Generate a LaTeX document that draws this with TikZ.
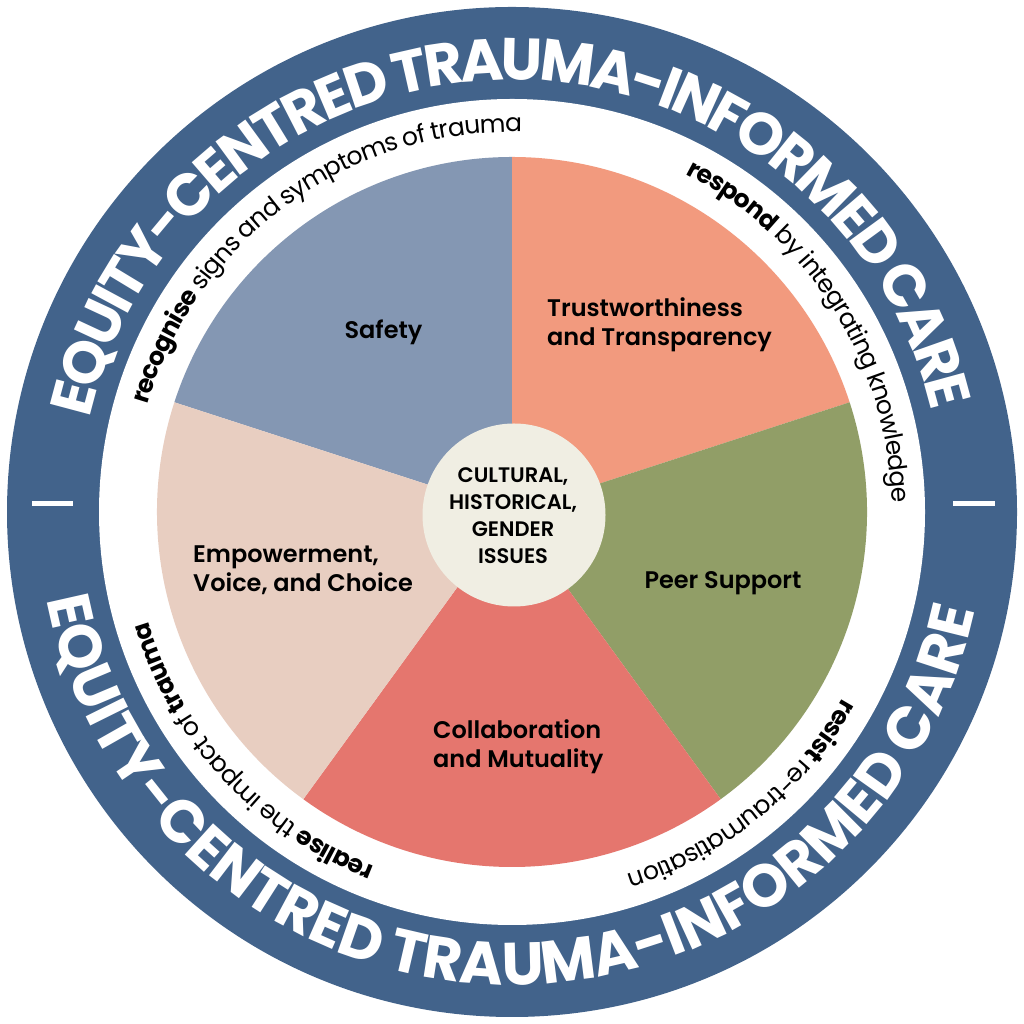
\documentclass[tikz,border=0pt]{standalone}
\usepackage{fontspec}
\setmainfont{Poppins}
\newfontfamily\psemi{Poppins SemiBold}
\usetikzlibrary{decorations.text}
\definecolor{ringblue}{HTML}{42638B}
\definecolor{safetycol}{HTML}{8497B3}
\definecolor{trustcol}{HTML}{F29A7E}
\definecolor{peercol}{HTML}{919E67}
\definecolor{collabcol}{HTML}{E5766E}
\definecolor{empowcol}{HTML}{E8CEC1}
\definecolor{centrecol}{HTML}{F0EEE3}
\newcommand\ringtop{\fontsize{59}{59}\selectfont\bfseries\kern-4pt}
\newcommand\ringbot{\fontsize{60}{60}\selectfont\bfseries\kern-0.6pt}
\newcommand\ptext{\fontsize{25}{25}\selectfont\kern-0.8pt}
\newcommand\btext{\fontsize{25}{25}\selectfont\bfseries\kern-0.8pt}
\newcommand\labfont{\psemi\fontsize{24}{29}\selectfont}
\tikzset{
  lab/.style={inner sep=0pt, font=\labfont, text=black},
  ringtext/.style={decorate, decoration={text along path, text color=white, text align=center, text={#1}}},
  arctext/.style={decorate, decoration={text along path, text color=black, text align=center, text={#1}}},
  dashmark/.style={white, line width=5pt}
}
\begin{document}
\begin{tikzpicture}[x=1pt,y=1pt]
\useasboundingbox (0,0) rectangle (1024,1024);
\fill[white] (0,0) rectangle (1024,1024);
% ring
\fill[ringblue] (512,512) circle[radius=505pt];
\fill[white] (512,512) circle[radius=413pt];
% sectors
\fill[safetycol] (512,512) -- ++(90:355pt) arc[start angle=90, end angle=162, radius=355pt] -- cycle;
\fill[trustcol] (512,512) -- ++(18:355pt) arc[start angle=18, end angle=90, radius=355pt] -- cycle;
\fill[peercol] (512,512) -- ++(-54:355pt) arc[start angle=-54, end angle=18, radius=355pt] -- cycle;
\fill[collabcol] (512,512) -- ++(-126:355pt) arc[start angle=-126, end angle=-54, radius=355pt] -- cycle;
\fill[empowcol] (512,512) -- ++(162:355pt) arc[start angle=162, end angle=234, radius=355pt] -- cycle;
% centre
\node[circle, fill=centrecol, minimum size=183pt, inner sep=0pt] (centre) at (514,509) {};
\node[lab, font=\psemi\fontsize{21}{27}\selectfont, anchor=base] (centretext) at (513,541)
  {\begin{tabular}[t]{@{}c@{}}CULTURAL,\\HISTORICAL,\\GENDER\\ISSUES\end{tabular}};
% labels
\node[lab, anchor=base] (safety) at (383.5,685) {Safety};
\node[lab, anchor=base west] (trust) at (547,707)
  {\begin{tabular}[t]{@{}l@{}}Trustworthiness\\and Transparency\end{tabular}};
\node[lab, anchor=base] (peer) at (723,435) {Peer Support};
\node[lab, anchor=base west] (collab) at (433,285)
  {\begin{tabular}[t]{@{}l@{}}Collaboration\\and Mutuality\end{tabular}};
\node[lab, anchor=base west] (empow) at (193,461)
  {\begin{tabular}[t]{@{}l@{}}Empowerment,\\Voice, and Choice\end{tabular}};
% dashes
\coordinate (dl1) at (32,520); \coordinate (dl2) at (73,520);
\coordinate (dr1) at (953,520); \coordinate (dr2) at (995,520);
\draw[dashmark] (dl1) -- (dl2);
\draw[dashmark] (dr1) -- (dr2);
% ring texts
\path[ringtext={|\ringtop|EQUITY-CENTRED TRAUMA-INFORMED CARE}]
  (512,512) ++(190.2:432pt) arc[start angle=190.2, end angle=-9.8, radius=432pt];
\path[ringtext={|\ringbot|EQUITY-CENTRED TRAUMA-INFORMED CARE}]
  (512,512) ++(169.4:473pt) arc[start angle=169.4, end angle=369.4, radius=473pt];
% inner arc texts
\path[arctext={|\btext|recognise|\ptext| signs and symptoms of trauma}]
  (512,512) ++(176:380pt) arc[start angle=176, end angle=76, radius=380pt];
\path[arctext={|\btext|respond|\ptext| by integrating knowledge}]
  (512,512) ++(82:380pt) arc[start angle=82, end angle=-18, radius=380pt];
\path[arctext={|\btext|resist|\ptext| re-traumatisation}]
  (512,512) ++(-1:380pt) arc[start angle=-1, end angle=-101, radius=380pt];
\path[arctext={|\btext|realise|\ptext| the impact of |\btext|trauma}]
  (512,512) ++(272.75:380pt) arc[start angle=272.75, end angle=172.75, radius=380pt];
\end{tikzpicture}
\end{document}
